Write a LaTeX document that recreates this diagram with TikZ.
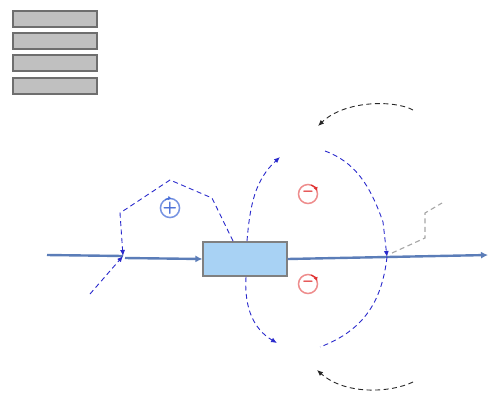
\documentclass[tikz,border=0pt]{standalone}
\usetikzlibrary{arrows.meta}
\definecolor{flow}{HTML}{5B7DB8}
\definecolor{loopblue}{HTML}{2A2ACC}
\definecolor{boxfill}{HTML}{A8D2F4}
\definecolor{legfill}{HTML}{C0C0C0}
\definecolor{legdraw}{HTML}{6E6E6E}
\definecolor{signred}{HTML}{E03030}
\definecolor{signblue}{HTML}{4A70D8}
\tikzset{
  legbox/.style={draw=legdraw, fill=legfill, line width=1.8pt, minimum width=84pt, minimum height=16pt, inner sep=0pt},
  stock/.style={draw=gray, fill=boxfill, line width=1.2pt, minimum width=84pt, minimum height=34pt, inner sep=0pt},
  flowline/.style={draw=flow, line width=2.4pt, -{Latex[length=7pt,width=7pt]}},
  flowplain/.style={draw=flow, line width=2.4pt},
  link/.style={draw=loopblue, line width=0.9pt, dash pattern=on 5pt off 3.5pt, -{Latex[length=6pt,width=5pt]}},
  linkplain/.style={draw=loopblue, line width=0.9pt, dash pattern=on 5pt off 3.5pt},
  blink/.style={draw=black!85, line width=0.9pt, dash pattern=on 5pt off 3.5pt, -{Latex[length=6pt,width=5pt]}},
  glink/.style={draw=gray!70, line width=1.1pt, dash pattern=on 5pt off 3.5pt},
  sign/.style={circle, draw, line width=1.5pt, minimum size=19pt, inner sep=0pt, font=\sffamily\bfseries\fontsize{17}{17}\selectfont}
}
\begin{document}
\begin{tikzpicture}[x=1pt,y=-1pt]
\useasboundingbox (0,0) rectangle (500,400);
% legend boxes
\node[legbox] (l1) at (55,19) {};
\node[legbox] (l2) at (55,41) {};
\node[legbox] (l3) at (55,63) {};
\node[legbox] (l4) at (55,86) {};
% stock
\node[stock] (box) at (245,259) {};
% coordinates
\coordinate (src) at (47,255);
\coordinate (j1) at (123,256);
\coordinate (j2) at (387,257);
\coordinate (sink) at (488,255);
% flows
\draw[flowplain] (src) -- (j1);
\draw[flowline] (125,258) -- (box.west);
\draw[flowplain] (box.east) -- (j2);
\draw[flowline] (j2) -- (sink);
% junction arrows
\draw[link] (90,294) -- (j1);
\draw[link] (233,241) -- (212,198) -- (170,180) -- (120,213) -- (j1);
\draw[link] (247,241) .. controls (250,205) and (255,180) .. (280,157);
\draw[link] (325,151) .. controls (355,162) and (370,185) .. (383,222) -- (j2);
\draw[linkplain] (j2) .. controls (382,300) and (365,330) .. (320,347);
\draw[link] (246,277) .. controls (244,310) and (255,330) .. (277,343);
% gray dashed
\draw[glink] (392,253) -- (425,238) -- (425,213) -- (442,203);
% black dashed arrows
\draw[blink] (413,110) .. controls (395,100) and (345,100) .. (318,126);
\draw[blink] (413,382) .. controls (390,393) and (345,395) .. (317,370);
% signs
\node[sign, draw=signblue!75, text=signblue] (p1) at (170,208) {+};
\node[sign, draw=signred!55, text=signred] (m1) at (308,194) {–};
\node[sign, draw=signred!55, text=signred] (m2) at (308,284) {–};
\draw[signred, line width=1.2pt, -{Latex[length=3.5pt,width=4.5pt]}] ([shift={(70:9.5pt)}]m1.center) arc[start angle=70, end angle=20, radius=9.5pt];
\draw[signred, line width=1.2pt, -{Latex[length=3.5pt,width=4.5pt]}] ([shift={(70:9.5pt)}]m2.center) arc[start angle=70, end angle=20, radius=9.5pt];
\draw[signblue, line width=1.2pt, -{Latex[length=3.5pt,width=4.5pt]}] ([shift={(120:9.5pt)}]p1.center) arc[start angle=120, end angle=80, radius=9.5pt];
\end{tikzpicture}
\end{document}
